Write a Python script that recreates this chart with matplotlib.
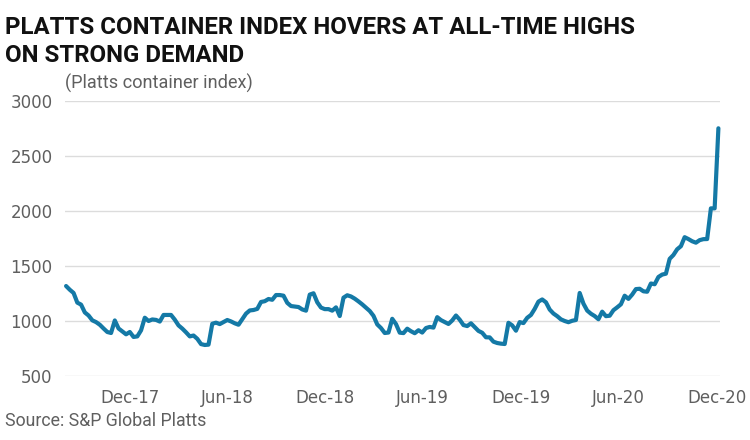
"""Platts container index, weekly, Aug-2017 to Dec-2020."""
import numpy as np
import pandas as pd
import matplotlib
matplotlib.use('Agg')
import matplotlib.pyplot as plt
import matplotlib.dates as mdates
from matplotlib import font_manager as fm

# dados (índice semanal)
START = '2017-08-04'
INDEX = [1318, 1284, 1255, 1167, 1149, 1078, 1050, 1006, 990, 966,
         932, 900, 891, 1005, 932, 906, 879, 900, 855, 860,
         915, 1030, 1000, 1014, 1010, 995, 1055, 1055, 1055, 1012,
         960, 931, 897, 860, 868, 838, 790, 782, 785, 975,
         985, 972, 990, 1009, 996, 979, 966, 1016, 1067, 1096,
         1100, 1110, 1173, 1180, 1200, 1193, 1236, 1236, 1230, 1165,
         1136, 1131, 1127, 1105, 1094, 1240, 1252, 1170, 1122, 1108,
         1108, 1094, 1124, 1045, 1212, 1234, 1223, 1203, 1178, 1151,
         1121, 1091, 1047, 969, 936, 891, 895, 1020, 972, 894,
         890, 930, 907, 889, 916, 895, 936, 946, 940, 1035,
         1008, 990, 973, 1005, 1050, 1012, 963, 954, 979, 945,
         910, 893, 852, 851, 812, 800, 794, 791, 984, 960,
         912, 990, 981, 1029, 1055, 1110, 1176, 1196, 1170, 1104,
         1068, 1044, 1015, 1000, 989, 1002, 1009, 1255, 1158, 1095,
         1066, 1045, 1016, 1085, 1044, 1048, 1098, 1124, 1152, 1230,
         1201, 1240, 1290, 1293, 1270, 1266, 1341, 1334, 1400, 1422,
         1430, 1565, 1600, 1652, 1680, 1762, 1745, 1725, 1712, 1735,
         1744, 1745, 2024, 2024, 2752]
YTICKS = [500, 1000, 1500, 2000, 2500, 3000]
XTICKS = ['2017-12-01', '2018-06-01', '2018-12-01', '2019-06-01',
          '2019-12-01', '2020-06-01', '2020-12-01']

BLUE = '#1479a6'
GRID = '#dcdcdc'
GRAY = '#5f5f5f'

names = {f.name for f in fm.fontManager.ttflist}
if 'Liberation Sans Narrow' in names:
    TITLE_FONT = dict(family='Liberation Sans Narrow', weight='bold')
elif 'Roboto' in names:
    TITLE_FONT = dict(family='Roboto', weight='bold')
else:
    TITLE_FONT = dict(family='DejaVu Sans', weight='bold')
BODY = 'Roboto' if 'Roboto' in names else 'DejaVu Sans'

dates = pd.date_range(START, periods=len(INDEX), freq='7D')
s = pd.Series(INDEX, index=dates)

fig = plt.figure(figsize=(7.5, 4.4), dpi=100)
ax = fig.add_axes([65 / 750, 64 / 440, 655 / 750, 275 / 440])
ax.plot(s.index, s.values, color=BLUE, lw=3, solid_capstyle='round',
        solid_joinstyle='round', zorder=3, clip_on=False)
ax.set_ylim(500, 3000)
ax.set_yticks(YTICKS)
ax.set_xlim(pd.Timestamp('2017-08-02'), pd.Timestamp('2020-12-07'))
ax.set_xticks(pd.to_datetime(XTICKS))
ax.xaxis.set_major_formatter(mdates.DateFormatter('%b-%y'))
ax.grid(axis='y', color=GRID, lw=1, zorder=0)
for sp in ax.spines.values():
    sp.set_visible(False)
ax.tick_params(length=0, labelsize=12, labelcolor=GRAY)
ax.tick_params(axis='y', pad=9)
ax.tick_params(axis='x', pad=9)
for lab in ax.get_xticklabels() + ax.get_yticklabels():
    lab.set_family('DejaVu Sans')

t1 = fig.text(5 / 750, 1 - 34 / 440, 'PLATTS CONTAINER INDEX HOVERS AT ALL-TIME HIGHS',
              va='baseline', ha='left', fontsize=20, color='#111111', **TITLE_FONT)
t2 = fig.text(5 / 750, 1 - 62 / 440, 'ON STRONG DEMAND',
              va='baseline', ha='left', fontsize=20, color='#111111', **TITLE_FONT)
sub = fig.text(65 / 750, 1 - 89 / 440, '(Platts container index)', va='baseline',
               ha='left', fontsize=12, color=GRAY, family=BODY)
src = fig.text(5 / 750, 1 - 426 / 440, 'Source: S&P Global Platts', va='baseline',
               ha='left', fontsize=12, color=GRAY, family=BODY)

# ajusta o tamanho das fontes pela largura medida no original
fig.canvas.draw()
r = fig.canvas.get_renderer()
for t, width in [(t1, 627), (sub, 187), (src, 202)]:
    w = t.get_window_extent(r).width
    t.set_fontsize(t.get_fontsize() * width / w)
t2.set_fontsize(t1.get_fontsize())

fig.savefig('out.png', dpi=100, facecolor='white')
